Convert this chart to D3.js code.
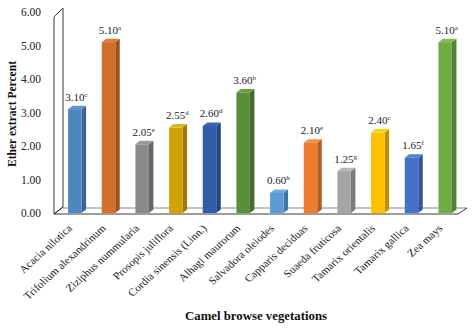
<!DOCTYPE html>
<html><head><meta charset="utf-8">
<script src="https://cdn.jsdelivr.net/npm/d3@7"></script>
<style>body{margin:0;background:#fff}svg{display:block}text{font-family:"Liberation Serif","Times New Roman",serif}</style>
</head><body><svg id="c" width="474" height="328"></svg>
<script>
const categories = ["Acacia nilotica","Trifolium alexandrinum","Ziziphus nummularia","Prosopis juliflora","Cordia sinensis (Linn.)","Alhagi maurorum","Salvadora oleiodes","Capparis deciduas","Suaeda fruticosa","Tamarix orientalis","Tamarix gallica","Zea mays"];
const values = [3.10,5.10,2.05,2.55,2.60,3.60,0.60,2.10,1.25,2.40,1.65,5.10];
const letters = ["c","a","e","d","d","b","h","e","g","c","f","a"];
const colors = ["#4f86bf","#d0702b","#8a8a8a","#d2a106","#2f5ea6","#5b8e3b","#5b9bd5","#ed7d31","#a5a5a5","#ffc000","#4472c4","#70ad47"];
const yTicks = [0,1,2,3,4,5,6];

const svg = d3.select("#c");
const x = d3.scaleBand().domain(categories).range([58,462]).padding(0);
const y = d3.scaleLinear().domain([0,6]).range([213,12]);
const bw = 13.5, dx = 4.5, dy = 3.5;

// back wall
const wallG = svg.append("g");
wallG.append("path").attr("d","M54,214 L54,17 L63,8 L63,207 Z").attr("fill","#fff").attr("stroke","#222").attr("stroke-width",0.9);
// floor
wallG.append("path").attr("d","M63,208 L467,208").attr("stroke","#888").attr("stroke-width",1);
wallG.append("path").attr("d","M54,214 L458,214 L467,208").attr("fill","none").attr("stroke","#222").attr("stroke-width",0.9);
wallG.append("path").attr("d","M54,214 L63,207").attr("stroke","#222").attr("stroke-width",0.9);

// y tick labels
svg.append("g").selectAll("text").data(yTicks).join("text")
  .attr("x",41).attr("y",d=>y(d)+4).attr("text-anchor","end")
  .attr("font-size",11.5).attr("fill","#222").text(d=>d.toFixed(2));

// bars
const bars = svg.append("g").selectAll("g").data(categories).join("g");
bars.each(function(c,i){
  const g = d3.select(this);
  const cx = x(c)+x.bandwidth()/2;
  const x0 = cx - bw/2, x1 = cx + bw/2;
  const yb = y(0), yt = y(values[i]);
  const col = d3.color(colors[i]);
  g.append("path").attr("d",`M${x1},${yb} L${x1},${yt} L${x1+dx},${yt-dy} L${x1+dx},${yb-dy} Z`).attr("fill",col.darker(0.8));
  g.append("path").attr("d",`M${x0},${yt} L${x1},${yt} L${x1+dx},${yt-dy} L${x0+dx},${yt-dy} Z`).attr("fill",col.brighter(0.3));
  g.append("rect").attr("x",x0).attr("y",yt).attr("width",bw).attr("height",yb-yt).attr("fill",col);
  const t = g.append("text").attr("x",cx+1.5).attr("y",yt-dy-5).attr("text-anchor","middle").attr("font-size",11).attr("fill","#222");
  t.append("tspan").text(values[i].toFixed(2));
  t.append("tspan").attr("font-size",7).attr("dy",-4).text(letters[i]);
});

// category labels
svg.append("g").selectAll("text").data(categories).join("text")
  .attr("transform",d=>`translate(${x(d)+x.bandwidth()/2-2},${229}) scale(1.1,1) rotate(-45)`)
  .attr("text-anchor","end").attr("font-size",10.5).attr("fill","#222").text(d=>d);

// axis titles
svg.append("text").attr("transform","translate(16,114) rotate(-90)").attr("text-anchor","middle")
  .attr("font-size",12).attr("font-weight","bold").attr("fill","#111")
  .attr("textLength",106).attr("lengthAdjust","spacingAndGlyphs").text("Ether extract Percent");
svg.append("text").attr("x",256).attr("y",320).attr("text-anchor","middle")
  .attr("font-size",12.5).attr("font-weight","bold").attr("fill","#111")
  .attr("textLength",142).attr("lengthAdjust","spacingAndGlyphs").text("Camel browse vegetations");
</script></body></html>
